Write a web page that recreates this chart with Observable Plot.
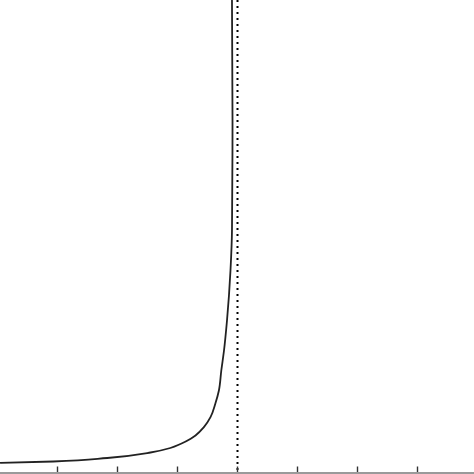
<!DOCTYPE html>
<html>
<head>
<meta charset="utf-8">
<script src="https://cdn.jsdelivr.net/npm/d3@7"></script>
<script src="https://cdn.jsdelivr.net/npm/@observablehq/plot@0.6"></script>
<style>
  html, body { margin: 0; padding: 0; background: #fff; }
  #chart svg { display: block; }
</style>
</head>
<body>
<div id="chart"></div>
<script>
// Curve samples (x in axis units, y in arbitrary height units from the bottom)
const curveX = [-3.95, -3.07, -2.17, -1.45, -1.12, -0.95, -0.78, -0.70, -0.56, -0.45, -0.37, -0.31, -0.27, -0.225, -0.175, -0.117, -0.092, -0.083, -0.092];
const curveY = [11.7, 13, 16.5, 22, 26.5, 30.5, 35.7, 39, 47.3, 57.3, 70.7, 84, 104, 124, 154, 204, 244, 354, 474];
const tickValues = [-3, -2, -1, 0, 1, 2, 3];
const referenceX = [0];

const curve = curveX.map((x, i) => ({x, y: curveY[i]}));

const chart = Plot.plot({
  width: 474,
  height: 474,
  margin: 0,
  x: {domain: [-3.95, 3.95], axis: null},
  y: {domain: [0, 474], axis: null},
  marks: [
    Plot.ruleX(referenceX, {stroke: "#000", strokeWidth: 2, strokeDasharray: "2,4"}),
    Plot.line(curve, {x: "x", y: "y", curve: "monotone-y", stroke: "#222", strokeWidth: 1.8}),
    Plot.ruleY([1.2], {stroke: "#9a9a9a", strokeWidth: 2.6}),
    Plot.ruleX(tickValues, {y1: 2, y2: 7.5, stroke: "#333", strokeWidth: 1.4})
  ]
});
document.getElementById("chart").append(chart);
</script>
</body>
</html>
